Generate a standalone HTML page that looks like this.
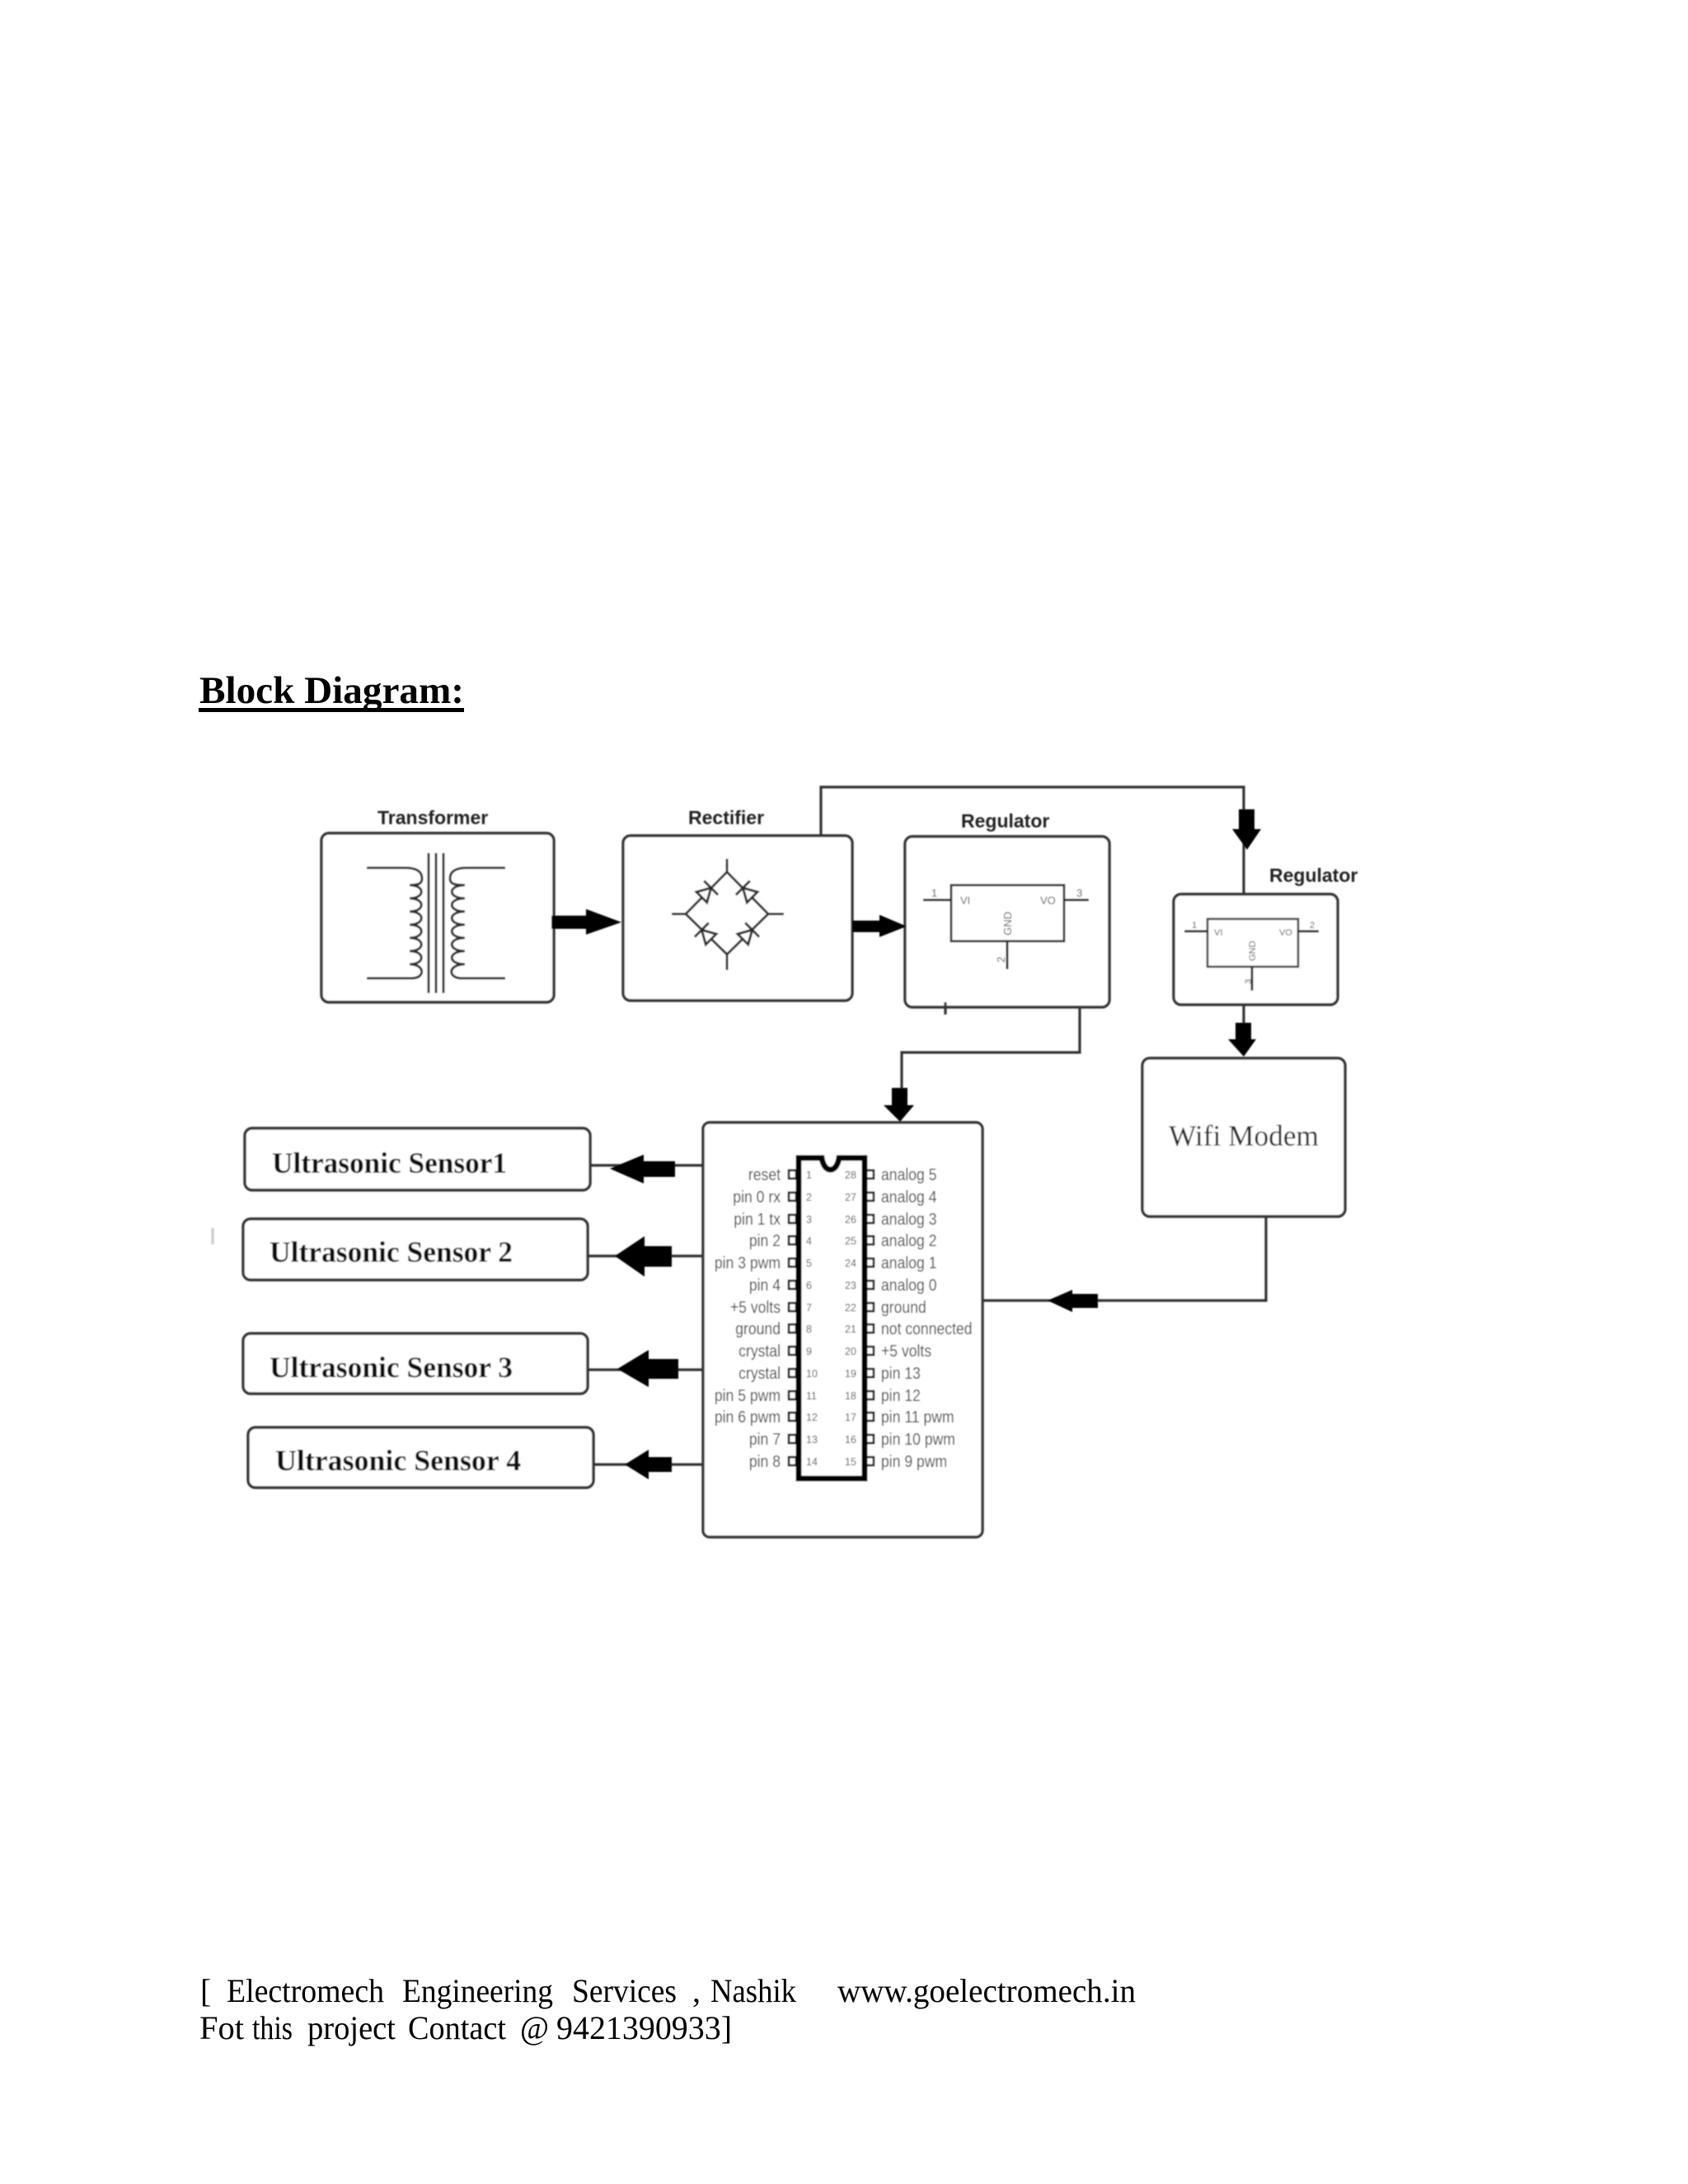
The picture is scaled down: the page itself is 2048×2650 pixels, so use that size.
<!DOCTYPE html>
<html lang="en">
<head>
<meta charset="utf-8">
<title>Block Diagram</title>
<style>
html,body{margin:0;padding:0;background:#fff;width:2048px;height:2650px;overflow:hidden}
svg{display:block}
.box{fill:#fff;stroke:#333;stroke-width:3.4}
.ln{fill:none;stroke:#333;stroke-width:3.2}
.thin{fill:none;stroke:#2c2c2c;stroke-width:3}
.ar{fill:#000;stroke:none}
.lab{font-family:"Liberation Sans",sans-serif;font-weight:700;font-size:23px;fill:#222}
.sen{font-family:"Liberation Serif",serif;font-weight:700;font-size:36px;fill:#111}
.wifi{font-family:"Liberation Serif",serif;font-size:36px;fill:#222}
.pin{font-family:"Liberation Sans",sans-serif;font-size:20px;fill:#333}
.num{font-family:"Liberation Sans",sans-serif;font-size:12.5px;fill:#444}
.reg{font-family:"Liberation Sans",sans-serif;font-size:13px;fill:#444}
.pad{fill:#fff;stroke:#111;stroke-width:2.6}
.ft{font-family:"Liberation Serif",serif;font-size:40px;fill:#000}
.hd{font-family:"Liberation Serif",serif;font-weight:700;font-size:47px;fill:#000}
</style>
</head>
<body>
<svg width="2048" height="2650" viewBox="0 0 2048 2650" xmlns="http://www.w3.org/2000/svg">
<defs><filter id="b" x="-2%" y="-2%" width="104%" height="104%"><feGaussianBlur stdDeviation="0.7"/></filter></defs>
<rect width="2048" height="2650" fill="#fff"/>

<text class="hd" x="242" y="853" textLength="321" lengthAdjust="spacingAndGlyphs">Block Diagram:</text>
<rect x="241" y="859" width="322" height="5" fill="#000"/>

<g filter="url(#b)">
<!-- connectors -->
<path class="ln" d="M996 1014V955H1509V1085"/>
<path class="ln" d="M1310 1222V1277H1094V1325"/>
<path class="ln" d="M1509 1219V1250"/>
<path class="ln" d="M1536 1477V1578H1190"/>
<path class="ln" d="M716 1414H853M713 1524H853M713 1662H853M720 1777H853"/>
<path class="ln" d="M258 1490V1510" style="stroke:#ccc"/>

<!-- boxes -->
<rect class="box" x="390" y="1011" width="282" height="205" rx="9"/>
<rect class="box" x="756" y="1014" width="278" height="200" rx="9"/>
<rect class="box" x="1098" y="1015" width="248" height="207" rx="9"/>
<rect class="box" x="1424" y="1085" width="199" height="134" rx="9"/>
<rect class="box" x="1386" y="1284" width="246" height="192" rx="9"/>
<rect class="box" x="853" y="1362" width="339" height="503" rx="8"/>
<rect class="box" x="297" y="1369" width="419" height="75" rx="9"/>
<rect class="box" x="295" y="1479" width="418" height="74" rx="9"/>
<rect class="box" x="295" y="1618" width="418" height="73" rx="9"/>
<rect class="box" x="301" y="1732" width="419" height="73" rx="9"/>
<path class="ln" d="M1147 1216V1231"/>

<!-- labels -->
<text class="lab" x="458" y="1000">Transformer</text>
<text class="lab" x="835" y="1000">Rectifier</text>
<text class="lab" x="1166" y="1004">Regulator</text>
<text class="lab" x="1540" y="1070">Regulator</text>
<text class="wifi" x="1418" y="1390" textLength="182" lengthAdjust="spacingAndGlyphs">Wifi Modem</text>
<text class="sen" x="330" y="1423" textLength="285" lengthAdjust="spacingAndGlyphs">Ultrasonic Sensor1</text>
<text class="sen" x="327" y="1531" textLength="295" lengthAdjust="spacingAndGlyphs">Ultrasonic Sensor 2</text>
<text class="sen" x="327" y="1671" textLength="295" lengthAdjust="spacingAndGlyphs">Ultrasonic Sensor 3</text>
<text class="sen" x="334" y="1784" textLength="298" lengthAdjust="spacingAndGlyphs">Ultrasonic Sensor 4</text>

<!-- arrows -->
<polygon class="ar" points="669,1111 711,1111 711,1103 754,1119 711,1134 711,1127 669,1127"/>
<polygon class="ar" points="1034,1117 1067,1117 1067,1110 1100,1124 1067,1137 1067,1131 1034,1131"/>
<polygon class="ar" points="1503,982 1522,982 1522,1006 1530,1006 1513,1031 1495,1006 1503,1006"/>
<polygon class="ar" points="1499,1241 1518,1241 1518,1261 1524,1261 1509,1282 1490,1261 1499,1261"/>
<polygon class="ar" points="1082,1320 1101,1320 1101,1341 1109,1341 1092,1361 1072,1341 1082,1341"/>
<polygon class="ar" points="740,1418 781,1401 781,1409 819,1409 819,1428 781,1428 781,1436"/>
<polygon class="ar" points="746,1524 782,1500 782,1512 815,1512 815,1537 782,1537 782,1549"/>
<polygon class="ar" points="749,1661 787,1638 787,1649 823,1649 823,1673 787,1673 787,1683"/>
<polygon class="ar" points="758,1777 787,1759 787,1768 815,1768 815,1786 787,1786 787,1795"/>
<polygon class="ar" points="1271,1578 1301,1565 1301,1570 1332,1570 1332,1587 1301,1587 1301,1592"/>

<!-- transformer symbol -->
<path class="thin" d="M520 1035V1205M529 1035V1205M538 1035V1205"/>
<path class="thin" d="M445 1053H492C506 1053 512 1058 512 1066C512 1072 508 1074 497 1074C516 1074 516 1090 497 1090C516 1090 516 1106 497 1106C516 1106 516 1122 497 1122C516 1122 516 1138 497 1138C516 1138 516 1154 497 1154C516 1154 516 1170 497 1170C516 1170 516 1187 500 1187H445"/>
<path class="thin" d="M613 1053H566C552 1053 546 1058 546 1066C546 1072 550 1074 564 1074C543 1074 543 1090 564 1090C543 1090 543 1106 564 1106C543 1106 543 1122 564 1122C543 1122 543 1138 564 1138C543 1138 543 1154 564 1154C543 1154 543 1170 564 1170C543 1170 543 1187 560 1187H613"/>

<!-- bridge -->
<path class="thin" d="M882 1042V1058L932 1109L882 1158V1177M882 1058L832 1109L882 1158M815 1109H832M932 1109H951"/>
<g class="thin">
<g transform="translate(857 1083) rotate(-45)"><path d="M-8 -9V9L8 0ZM8 -12V12" fill="#fff"/></g>
<g transform="translate(907 1083) rotate(225)"><path d="M-8 -9V9L8 0ZM8 -12V12" fill="#fff"/></g>
<g transform="translate(857 1134) rotate(225)"><path d="M-8 -9V9L8 0ZM8 -12V12" fill="#fff"/></g>
<g transform="translate(907 1134) rotate(-45)"><path d="M-8 -9V9L8 0ZM8 -12V12" fill="#fff"/></g>
</g>

<!-- regulator 1 -->
<rect x="1154" y="1074" width="137" height="68" fill="#fff" stroke="#333" stroke-width="2.8"/>
<path class="thin" d="M1120 1092H1154M1291 1092H1321M1222 1142V1176"/>
<text class="reg" x="1130" y="1088">1</text>
<text class="reg" x="1306" y="1088">3</text>
<text class="reg" x="1165" y="1097">VI</text>
<text class="reg" x="1262" y="1097">VO</text>
<text class="reg" transform="translate(1227 1135) rotate(-90)">GND</text>
<text class="reg" transform="translate(1219 1168) rotate(-90)">2</text>

<!-- regulator 2 -->
<rect x="1465" y="1115" width="110" height="58" fill="#fff" stroke="#444" stroke-width="2.6"/>
<path class="thin" d="M1437 1130H1465M1575 1130H1600M1519 1173V1202"/>
<text class="reg" style="font-size:11px" x="1446" y="1126">1</text>
<text class="reg" style="font-size:11px" x="1589" y="1126">2</text>
<text class="reg" style="font-size:11px" x="1473" y="1135">VI</text>
<text class="reg" style="font-size:11px" x="1552" y="1135">VO</text>
<text class="reg" style="font-size:11px" transform="translate(1523 1166) rotate(-90)">GND</text>
<text class="reg" style="font-size:11px" transform="translate(1518 1194) rotate(-90)">3</text>

<!-- pads -->
<g class="pad">
<rect x="957" y="1420" width="9" height="10"/><rect x="957" y="1447" width="9" height="10"/><rect x="957" y="1474" width="9" height="10"/><rect x="957" y="1500" width="9" height="10"/><rect x="957" y="1527" width="9" height="10"/><rect x="957" y="1554" width="9" height="10"/><rect x="957" y="1581" width="9" height="10"/><rect x="957" y="1607" width="9" height="10"/><rect x="957" y="1634" width="9" height="10"/><rect x="957" y="1661" width="9" height="10"/><rect x="957" y="1688" width="9" height="10"/><rect x="957" y="1714" width="9" height="10"/><rect x="957" y="1741" width="9" height="10"/><rect x="957" y="1768" width="9" height="10"/>
<rect x="1051" y="1420" width="9" height="10"/><rect x="1051" y="1447" width="9" height="10"/><rect x="1051" y="1474" width="9" height="10"/><rect x="1051" y="1500" width="9" height="10"/><rect x="1051" y="1527" width="9" height="10"/><rect x="1051" y="1554" width="9" height="10"/><rect x="1051" y="1581" width="9" height="10"/><rect x="1051" y="1607" width="9" height="10"/><rect x="1051" y="1634" width="9" height="10"/><rect x="1051" y="1661" width="9" height="10"/><rect x="1051" y="1688" width="9" height="10"/><rect x="1051" y="1714" width="9" height="10"/><rect x="1051" y="1741" width="9" height="10"/><rect x="1051" y="1768" width="9" height="10"/>
</g>

<!-- chip -->
<path d="M969 1405H997C1000 1424 1015 1424 1018 1405H1049V1794H969Z" fill="#fff" stroke="#000" stroke-width="7"/>

<!-- left pin names -->
<g transform="translate(947 0) scale(.88 1)" class="pin" text-anchor="end">
<text y="1432">reset</text><text y="1459">pin 0 rx</text><text y="1486">pin 1 tx</text><text y="1512">pin 2</text><text y="1539">pin 3 pwm</text><text y="1566">pin 4</text><text y="1593">+5 volts</text><text y="1619">ground</text><text y="1646">crystal</text><text y="1673">crystal</text><text y="1700">pin 5 pwm</text><text y="1726">pin 6 pwm</text><text y="1753">pin 7</text><text y="1780">pin 8</text>
</g>
<!-- right pin names -->
<g transform="translate(1069 0) scale(.88 1)" class="pin">
<text y="1432">analog 5</text><text y="1459">analog 4</text><text y="1486">analog 3</text><text y="1512">analog 2</text><text y="1539">analog 1</text><text y="1566">analog 0</text><text y="1593">ground</text><text y="1619">not connected</text><text y="1646">+5 volts</text><text y="1673">pin 13</text><text y="1700">pin 12</text><text y="1726">pin 11 pwm</text><text y="1753">pin 10 pwm</text><text y="1780">pin 9 pwm</text>
</g>
<!-- pin numbers -->
<g class="num">
<text x="978" y="1430">1</text><text x="978" y="1457">2</text><text x="978" y="1484">3</text><text x="978" y="1510">4</text><text x="978" y="1537">5</text><text x="978" y="1564">6</text><text x="978" y="1591">7</text><text x="978" y="1617">8</text><text x="978" y="1644">9</text><text x="978" y="1671">10</text><text x="978" y="1698">11</text><text x="978" y="1724">12</text><text x="978" y="1751">13</text><text x="978" y="1778">14</text>
<text x="1025" y="1430">28</text><text x="1025" y="1457">27</text><text x="1025" y="1484">26</text><text x="1025" y="1510">25</text><text x="1025" y="1537">24</text><text x="1025" y="1564">23</text><text x="1025" y="1591">22</text><text x="1025" y="1617">21</text><text x="1025" y="1644">20</text><text x="1025" y="1671">19</text><text x="1025" y="1698">18</text><text x="1025" y="1724">17</text><text x="1025" y="1751">16</text><text x="1025" y="1778">15</text>
</g>
</g>

<!-- footer -->
<g class="ft">
<text x="243" y="2429">[</text>
<text x="275" y="2429" textLength="191" lengthAdjust="spacingAndGlyphs">Electromech</text>
<text x="488" y="2429" textLength="183" lengthAdjust="spacingAndGlyphs">Engineering</text>
<text x="694" y="2429" textLength="127" lengthAdjust="spacingAndGlyphs">Services</text>
<text x="840" y="2429">,</text>
<text x="862" y="2429" textLength="104" lengthAdjust="spacingAndGlyphs">Nashik</text>
<text x="1016" y="2429" textLength="362" lengthAdjust="spacingAndGlyphs">www.goelectromech.in</text>
<text x="242" y="2474" textLength="54" lengthAdjust="spacingAndGlyphs">Fot</text>
<text x="306" y="2474" textLength="49" lengthAdjust="spacingAndGlyphs">this</text>
<text x="373" y="2474" textLength="107" lengthAdjust="spacingAndGlyphs">project</text>
<text x="495" y="2474" textLength="119" lengthAdjust="spacingAndGlyphs">Contact</text>
<text x="631" y="2474" textLength="35" lengthAdjust="spacingAndGlyphs">@</text>
<text x="675" y="2474" textLength="213" lengthAdjust="spacingAndGlyphs">9421390933]</text>
</g>
</svg>
</body>
</html>
